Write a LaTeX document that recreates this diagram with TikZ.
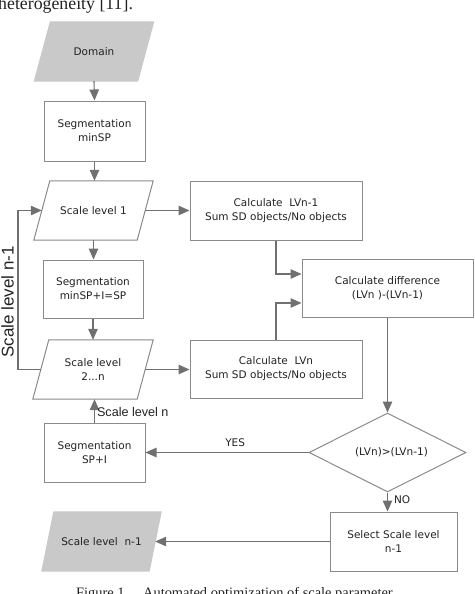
\documentclass[tikz,border=0pt]{standalone}
\usepackage{fontspec}
\setmainfont{DejaVu Sans}
\newfontfamily\arialf{Liberation Sans}
\newfontfamily\timesf{Liberation Serif}
\usetikzlibrary{arrows.meta,shapes.geometric,backgrounds}
\definecolor{linec}{HTML}{707070}
\definecolor{boxc}{HTML}{8A8A8A}
\definecolor{grayf}{HTML}{C9C9C9}
\definecolor{txtc}{HTML}{222222}
\tikzset{
 every node/.style={text=txtc, font=\fontsize{10.5}{14}\selectfont},
 box/.style={draw=boxc, line width=1pt, inner sep=0, align=center},
 para/.style={inner sep=0, align=center},
 arr/.style={draw=linec, line width=1.1pt, -{Triangle[length=11pt,width=9.5pt]}},
 ln/.style={draw=linec, line width=1.1pt},
}
\newcommand\paral[4]{%
 \begin{pgfonlayer}{background}
 \filldraw[draw=#4, line width=1pt, fill=#3] ([xshift=#2]#1.north west) -- ([xshift=#2]#1.north east) -- ([xshift=-#2]#1.south east) -- ([xshift=-#2]#1.south west) -- cycle;
 \end{pgfonlayer}}
\begin{document}
\begin{tikzpicture}[x=1pt,y=-1pt]
\useasboundingbox (0,0) rectangle (474,594);
\begin{scope}
\clip (0,0) rectangle (474,594);
\node[anchor=base west, inner sep=0, font=\timesf\fontsize{17.8}{18}\selectfont] (toptxt) at (-2,10) {heterogeneity [11].};
\node[anchor=base west, inner sep=0, font=\timesf\fontsize{14.4}{15}\selectfont] (cap) at (76,597) {Figure 1.\hspace{15pt}Automated optimization of scale parameter};
\end{scope}

% parallelograms
\node[para, minimum width=103pt, minimum height=59pt] (dom) at (94,51.5) {Domain};
\paral{dom}{8pt}{grayf}{grayf}
\node[para, minimum width=103pt, minimum height=59pt] (sl1) at (93.5,210.5) {Scale level 1};
\paral{sl1}{8pt}{white}{boxc}
\node[para, minimum width=104pt, minimum height=59pt] (sl2) at (93,369.5) {Scale level\\2...n};
\paral{sl2}{8pt}{white}{boxc}
\node[para, minimum width=107pt, minimum height=59pt] (sln) at (101.5,541.5) {Scale level\ \ n-1};
\paral{sln}{6pt}{grayf}{grayf}

% boxes
\node[box, minimum width=101pt, minimum height=60pt] (seg1) at (94.5,131) {Segmentation\\minSP};
\node[box, minimum width=100pt, minimum height=58pt] (seg2) at (93,289) {Segmentation\\minSP+I=SP};
\node[box, minimum width=101pt, minimum height=59pt] (seg3) at (94.5,452.5) {Segmentation\\SP+I};
\node[box, minimum width=172pt, minimum height=59pt] (c1) at (276,210.5) {Calculate\ \ LVn-1\\Sum SD objects/No objects};
\node[box, minimum width=172pt, minimum height=58pt] (c2) at (276,369) {Calculate\ \ LVn\\Sum SD objects/No objects};
\node[box, minimum width=171pt, minimum height=58pt] (diff) at (387.5,288) {Calculate difference\\(LVn )-(LVn-1)};
\node[diamond, shape aspect=2, draw=boxc, line width=1pt, inner sep=0, minimum width=157pt, minimum height=79pt] (dia) at (387.5,452.5) {\hspace{8pt}(LVn)>(LVn-1)};
\node[box, minimum width=127pt, minimum height=59pt] (sel) at (393.5,541.5) {Select Scale level\\n-1};

% connectors
\draw[arr] (dom.south) -- (seg1.north);
\draw[arr] (seg1.south) -- (seg1.south |- sl1.north);
\draw[arr] (sl1.east) -- (c1.west);
\draw[arr] (sl1.south) -- (sl1.south |- seg2.north);
\draw[arr] (seg2.south) -- (seg2.south |- sl2.north);
\draw[arr] (sl2.east) -- (sl2.east -| c2.west);
\coordinate (loopc) at (18,369.5);
\draw[arr] (sl2.west) -- (loopc) |- (sl1.west);
\node[rotate=90, inner sep=0, font=\arialf\fontsize{17}{17}\selectfont] (lbl) at (7.5,302) {Scale level n-1};
\draw[arr] (c1.south) |- ([yshift=14pt]diff.west);
\draw[arr] (c2.north) |- ([yshift=-15pt]diff.west);
\draw[arr] (diff.south) -- (dia.north);
\draw[arr] (dia.west) -- (seg3.east) node[pos=0.45, above=5pt, inner sep=0] (yes) {YES};
\draw[arr] (seg3.north) -- (seg3.north |- sl2.south) node[pos=0.45, right=2pt, inner sep=0, font=\arialf\fontsize{12.6}{13}\selectfont] (sln2) {Scale level n};
\draw[arr] (dia.south) -- (dia.south |- sel.north) node[pos=0.4, right=6pt, inner sep=0] (no) {NO};
\draw[arr] (sel.west) -- (sln.east);
\end{tikzpicture}
\end{document}
